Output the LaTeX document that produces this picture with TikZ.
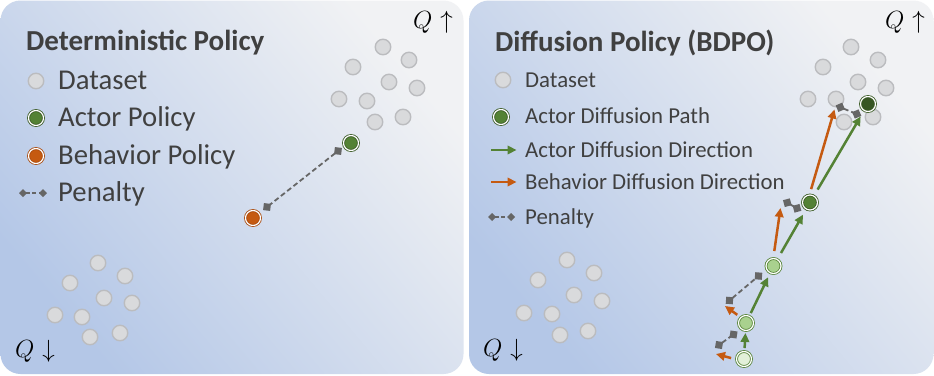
\documentclass[tikz,border=0pt]{standalone}
\usepackage{fontspec}
\setmainfont{Carlito}
\usetikzlibrary{arrows.meta}
\definecolor{txt}{HTML}{404040}
\definecolor{bgtop}{HTML}{F1F2F4}
\definecolor{bgmid}{HTML}{D3DCEB}
\definecolor{bgbot}{HTML}{B4C7E7}
\definecolor{dotfill}{HTML}{D9DADC}
\definecolor{dotline}{HTML}{BBBCBF}
\definecolor{gfill}{HTML}{548235}
\definecolor{gring}{HTML}{3A5A25}
\definecolor{gdark}{HTML}{375623}
\definecolor{glight}{HTML}{A9D18E}
\definecolor{gpale}{HTML}{E2F0D9}
\definecolor{ofill}{HTML}{C55A11}
\definecolor{oring}{HTML}{A84A0C}
\definecolor{pen}{HTML}{666666}
\begin{document}
\begin{tikzpicture}[x=1pt,y=-1pt,
  panel/.style={rounded corners=20pt, top color=bgtop, middle color=bgmid, bottom color=bgbot, shading angle=-50},
  data/.style={circle, minimum size=15.5pt, inner sep=0pt, outer sep=0pt, fill=dotfill, draw=dotline, line width=1.4pt},
  pathnode/.style 2 args={circle, minimum size=15pt, inner sep=0pt, outer sep=2pt, fill=#1, draw=#2, line width=0.8pt, double=white, double distance=1.2pt},
  garrow/.style={draw=gfill, line width=2.5pt, -{Triangle[length=9pt,width=8.5pt]}},
  oarrow/.style={draw=ofill, line width=2.5pt, -{Triangle[length=9pt,width=8.5pt]}},
  penalty/.style={draw=pen, line width=1.8pt, dash pattern=on 5pt off 3pt,
    {Turned Square[length=10pt,width=10pt]}-{Turned Square[length=10pt,width=10pt]},
    shorten <=-5pt, shorten >=-5pt},
  penaltysmall/.style={draw=pen, line width=1.5pt, dash pattern=on 4pt off 2.5pt,
    {Turned Square[length=8pt,width=8pt]}-{Turned Square[length=8pt,width=8pt]},
    shorten <=-4pt, shorten >=-4pt},
  title/.style={anchor=base west, inner sep=0pt, text=txt, font=\fontsize{29}{34}\selectfont\bfseries},
  lblbig/.style={anchor=base west, inner sep=0pt, text=txt, font=\fontsize{28.7}{33}\selectfont},
  lblsmall/.style={anchor=base west, inner sep=0pt, text=txt, font=\fontsize{22.8}{27}\selectfont},
  qlbl/.style={inner sep=0pt, text=black, font=\fontsize{30}{34}\selectfont}
]
\fill[white] (0,0) rectangle (934,375);
\useasboundingbox (0,0) rectangle (934,375);
% panels
\shade[panel] (0.5,0.5) rectangle (463.5,374);
\shade[panel] (469,0.5) rectangle (933.5,374);

% ---------------- Left panel ----------------
\node[title] (lt) at (26,50) {Deterministic Policy};
\node[data] (ld) at (36,81) {};
\node[pathnode={gfill}{gring}] (la) at (36,118) {};
\node[pathnode={ofill}{oring}] (lb) at (36,156) {};
\coordinate (lp1) at (23,193);
\coordinate (lp2) at (43,193);
\draw[penaltysmall] (lp1) -- (lp2);
\node[lblbig] (ldt) at (58,89.3) {Dataset};
\node[lblbig] (lat) at (58,126.7) {Actor Policy};
\node[lblbig] (lbt) at (58,164.3) {Behavior Policy};
\node[lblbig] (lpt) at (58,201.7) {Penalty};

\foreach \n/\x/\y in {a1/383/47, a2/409/60, a3/353/67, a4/389/82, a5/417/88, a6/339/99, a7/367/101, a8/403/117, a9/375/122,
                      b1/98/263, b2/125/276, b3/70/283, b4/104/298, b5/132/303, b6/55/315, b7/82/317, b8/120/333, b9/90/337}
  \node[data] (L\n) at (\x,\y) {};

\node[pathnode={gfill}{gring}] (lactor) at (351,143) {};
\node[pathnode={ofill}{oring}] (lbeh) at (253,218) {};
\coordinate (lpa) at (338,151);
\coordinate (lpb) at (267,207);
\draw[penalty] (lpa) -- (lpb);

\node[qlbl] (lqu) at (433,22) {$Q$\hspace{8pt}$\uparrow$};
\node[qlbl] (lqd) at (35,351) {$Q$\hspace{8pt}$\downarrow$};

% ---------------- Right panel ----------------
\node[title] (rt) at (495,51.5) {Diffusion Policy (BDPO)};
\node[data] (rd) at (503,80) {};
\node[pathnode={gfill}{gring}] (ra) at (501,117) {};
\coordinate (rga) at (491,150); \coordinate (rgb) at (516.5,150);
\draw[garrow] (rga) -- (rgb);
\coordinate (roa) at (491,182); \coordinate (rob) at (516.5,182);
\draw[oarrow] (roa) -- (rob);
\coordinate (rp1) at (492,217); \coordinate (rp2) at (511,217);
\draw[penaltysmall] (rp1) -- (rp2);
\node[lblsmall] (rdt) at (525,87.3) {Dataset};
\node[lblsmall] (rat) at (525,123.6) {Actor Diffusion Path};
\node[lblsmall] (rgt) at (525,157) {Actor Diffusion Direction};
\node[lblsmall] (rot) at (525,189.5) {Behavior Diffusion Direction};
\node[lblsmall] (rpt) at (525,224.3) {Penalty};

\foreach \n/\x/\y in {a1/851/47, a2/878/60, a3/823/67, a4/858/82, a5/886/88, a6/808/99, a7/836/99, a8/873/117, a9/844/122,
                      b1/567/260, b2/594/273, b3/538/280, b4/574/295, b5/602/301, b6/524/313, b7/552/314, b8/588/331, b9/560/335}
  \node[data] (R\n) at (\x,\y) {};

% diffusion path nodes
\node[pathnode={gpale}{gfill}] (n1) at (744,359) {};
\node[pathnode={glight}{gfill}] (n2) at (746,323) {};
\node[pathnode={glight}{gfill}] (n3) at (773.5,266) {};
\node[pathnode={gfill}{gring}] (n4) at (810,202.5) {};
\node[pathnode={gdark}{gring}] (n5) at (868,104) {};

% actor diffusion directions
\draw[garrow, shorten <=1.5pt, shorten >=0.5pt] (n1) -- (n2);
\draw[garrow, shorten <=1.5pt, shorten >=3pt] (n2) -- (n3);
\draw[garrow, shorten <=5.5pt, shorten >=4.5pt] (n3) -- (n4);
\draw[garrow, shorten <=5.5pt, shorten >=5pt] (n4) -- (n5);

% behavior diffusion directions
\coordinate (o1) at (716,354);
\coordinate (o2) at (725,306);
\coordinate (o3) at (780.5,208);
\coordinate (o4) at (834.5,109.5);
\draw[oarrow, shorten <=3.5pt] (n1.west) -- (o1);
\draw[oarrow, shorten <=2.5pt] (n2.north west) -- (o2);
\draw[oarrow, shorten <=5.5pt] (n3.north) -- (o3);
\draw[oarrow, shorten <=4pt] (n4.north) -- (o4);

% penalties
\coordinate (p1a) at (719,345); \coordinate (p1b) at (733.5,334.5);
\coordinate (p2a) at (729.5,300.5); \coordinate (p2b) at (758.5,276);
\coordinate (p3a) at (787.3,202.7); \coordinate (p3b) at (797,208.3);
\coordinate (p4a) at (840.3,107.3); \coordinate (p4b) at (856.7,114);
\draw[penalty] (p1a) -- (p1b);
\draw[penalty] (p2a) -- (p2b);
\draw[penalty] (p3a) -- (p3b);
\draw[penalty] (p4a) -- (p4b);

\node[qlbl] (rqu) at (905,22) {$Q$\hspace{8pt}$\uparrow$};
\node[qlbl] (rqd) at (503,350) {$Q$\hspace{8pt}$\downarrow$};
\end{tikzpicture}
\end{document}
